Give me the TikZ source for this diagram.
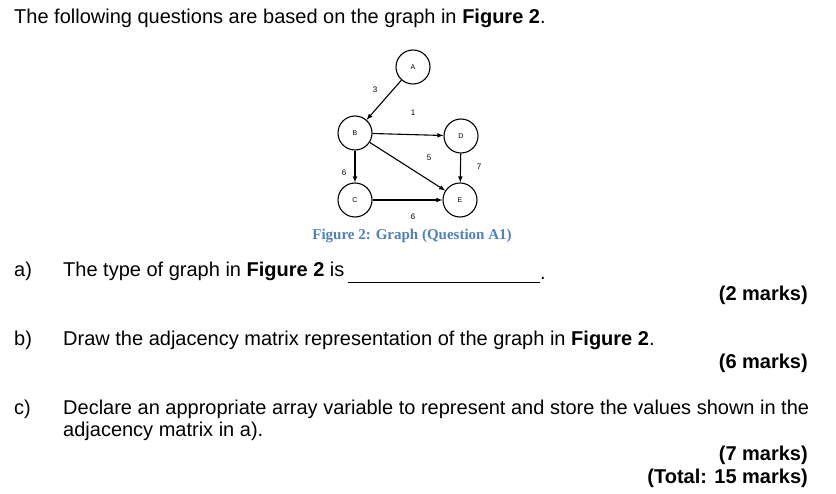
\documentclass[tikz,border=0pt]{standalone}
\usepackage{fontspec}
\setmainfont{Liberation Sans}
\newfontfamily\capfont{Liberation Serif}
\tikzset{vtx/.style={circle,draw,line width=1.1pt,minimum size=34pt,inner sep=0pt,font=\fontsize{7}{8}\selectfont},
ed/.style={-latex,line width=1.1pt},
wt/.style={font=\fontsize{8}{9}\selectfont},
txt/.style={anchor=west,inner sep=0pt,font=\fontsize{20}{24}\selectfont},
rtxt/.style={anchor=east,inner sep=0pt,font=\fontsize{20}{24}\selectfont\bfseries}}
\begin{document}
\begin{tikzpicture}[x=1pt,y=-1pt]
\useasboundingbox[fill=white] (0,0) rectangle (836,494);
\node[txt] (t0) at (14,18) {The following questions are based on the graph in \textbf{Figure 2}.};
\node[vtx] (A) at (413,67) {A};
\node[vtx] (B) at (355,133) {B};
\node[vtx] (D) at (461,136) {D};
\node[vtx] (C) at (355,200) {C};
\node[vtx] (E) at (460,200) {E};
\draw[ed] (A) -- (B);
\draw[ed] (B) -- (D);
\draw[ed] (B) -- (E);
\draw[ed] (B) -- (C);
\draw[ed] (D) -- (E);
\draw[ed] (C) -- (E);
\node[wt] (w1) at (375,90) {3};
\node[wt] (w2) at (413,113) {1};
\node[wt] (w3) at (429,158) {5};
\node[wt] (w4) at (479,167) {7};
\node[wt] (w5) at (344,173) {6};
\node[wt] (w6) at (413,217) {6};
\node[font=\capfont\bfseries\fontsize{15}{17}\selectfont,text={rgb,255:red,79;green,129;blue,189}] (cap) at (412,236) {Figure 2: Graph (Question A1)};
\node[txt] (a) at (14,271) {a)};
\node[txt] (aq) at (63,271) {The type of graph in \textbf{Figure 2} is};
\coordinate (u1) at (348,282);
\coordinate (u2) at (540,282);
\draw[thick] (u1) -- (u2);
\node[txt,anchor=base west] (dot) at (540,280) {.};
\node[rtxt] (m1) at (808,295) {(2 marks)};
\node[txt] (b) at (14,340) {b)};
\node[txt] (bq) at (63,340) {Draw the adjacency matrix representation of the graph in \textbf{Figure 2}.};
\node[rtxt] (m2) at (808,363) {(6 marks)};
\node[txt] (c) at (14,409) {c)};
\node[txt] (cq) at (63,409) {Declare an appropriate array variable to represent and store the values shown in the};
\node[txt] (cq2) at (63,431) {adjacency matrix in a).};
\node[rtxt] (m3) at (808,455) {(7 marks)};
\node[rtxt] (m4) at (808,478) {(Total: 15 marks)};
\end{tikzpicture}
\end{document}
